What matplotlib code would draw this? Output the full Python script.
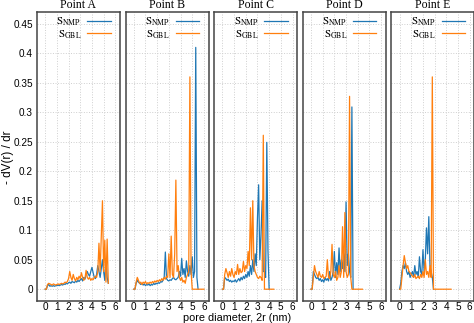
import numpy as np
import matplotlib
matplotlib.use("Agg")
import matplotlib.pyplot as plt

plt.rcParams['font.family'] = ['Liberation Sans', 'DejaVu Sans']
plt.rcParams['mathtext.fontset'] = 'stix'

# pore diameter grid (nm), 0.1 nm step
step = 0.1

panels = ['Point A', 'Point B', 'Point C', 'Point D', 'Point E']

nmp_a = [0, 0, 0.006, 0.008, 0.005, 0.006, 0.005, 0.006, 0.005, 0.006,
         0.006, 0.007, 0.006, 0.007, 0.008, 0.007, 0.009, 0.008, 0.010, 0.009,
         0.011, 0.012, 0.010, 0.013, 0.012, 0.011, 0.014, 0.012, 0.015, 0.013,
         0.016, 0.018, 0.014, 0.020, 0.017, 0.024, 0.030, 0.025, 0.022, 0.030,
         0.037, 0.028, 0.020, 0.018, 0.025, 0.040, 0.030, 0.020, 0.035, 0.050,
         0.030, 0.015, 0.052, 0.020, 0.010]
gbl_a = [0, 0, 0.008, 0.010, 0.009, 0.008, 0.007, 0.009, 0.008, 0.007,
         0.008, 0.009, 0.008, 0.009, 0.010, 0.009, 0.010, 0.012, 0.011, 0.013,
         0.018, 0.030, 0.020, 0.015, 0.025, 0.018, 0.014, 0.020, 0.016, 0.022,
         0.018, 0.028, 0.020, 0.015, 0.018, 0.032, 0.020, 0.017, 0.020, 0.015,
         0.018, 0.016, 0.020, 0.022, 0.020, 0.030, 0.078, 0.030, 0.090, 0.150,
         0.030, 0.083, 0.012, 0.085, 0.010]

nmp_b = [0, 0, 0.010, 0.015, 0.012, 0.010, 0.008, 0.010, 0.007, 0.009,
         0.006, 0.008, 0.007, 0.009, 0.006, 0.008, 0.007, 0.010, 0.008, 0.010,
         0.009, 0.011, 0.010, 0.013, 0.012, 0.015, 0.020, 0.063, 0.018, 0.015,
         0.014, 0.016, 0.015, 0.018, 0.020, 0.017, 0.016, 0.018, 0.020, 0.030,
         0.022, 0.052, 0.025, 0.035, 0.020, 0.048, 0.030, 0.022, 0.040, 0.025,
         0.055, 0.020, 0.030, 0.410, 0.020, 0.0]
gbl_b = [0, 0, 0.012, 0.020, 0.015, 0.010, 0.012, 0.008, 0.012, 0.010,
         0.013, 0.009, 0.011, 0.010, 0.012, 0.010, 0.013, 0.011, 0.014, 0.012,
         0.015, 0.013, 0.016, 0.014, 0.018, 0.015, 0.020, 0.017, 0.022, 0.020,
         0.060, 0.020, 0.090, 0.025, 0.020, 0.060, 0.185, 0.030, 0.040, 0.020,
         0.015, 0.020, 0.012, 0.015, 0.010, 0.020, 0.025, 0.030, 0.360, 0.030,
         0, 0, 0, 0, 0, 0, 0, 0, 0, 0, 0]

nmp_c = [0, 0, 0.020, 0.018, 0.015, 0.017, 0.013, 0.015, 0.012, 0.014,
         0.013, 0.016, 0.012, 0.015, 0.018, 0.014, 0.020, 0.016, 0.022, 0.018,
         0.025, 0.020, 0.030, 0.022, 0.040, 0.025, 0.050, 0.030, 0.060, 0.040,
         0.120, 0.177, 0.050, 0.090, 0.150, 0.030, 0.030, 0.020, 0.249, 0.065,
         0.0]
gbl_c = [0, 0, 0.025, 0.035, 0.028, 0.020, 0.030, 0.022, 0.035, 0.025,
         0.020, 0.030, 0.025, 0.042, 0.025, 0.035, 0.028, 0.030, 0.047, 0.030,
         0.040, 0.035, 0.064, 0.040, 0.138, 0.050, 0.150, 0.040, 0.030, 0.025,
         0.020, 0.018, 0.022, 0.020, 0.015, 0.261, 0, 0, 0, 0,
         0, 0, 0, 0, 0]

nmp_d = [0, 0, 0.030, 0.025, 0.020, 0.018, 0.020, 0.015, 0.018, 0.013,
         0.016, 0.012, 0.020, 0.015, 0.018, 0.014, 0.030, 0.015, 0.020, 0.030,
         0.064, 0.020, 0.045, 0.025, 0.070, 0.030, 0.050, 0.035, 0.060, 0.030,
         0.148, 0.040, 0.060, 0.030, 0.020, 0.309, 0.0]
gbl_d = [0, 0, 0.020, 0.040, 0.030, 0.025, 0.020, 0.030, 0.022, 0.020,
         0.025, 0.018, 0.020, 0.022, 0.050, 0.020, 0.018, 0.030, 0.076, 0.025,
         0.020, 0.030, 0.015, 0.020, 0.040, 0.020, 0.030, 0.106, 0.020, 0.130,
         0.030, 0.020, 0.025, 0.327, 0.020, 0, 0, 0, 0, 0,
         0, 0, 0, 0, 0]

nmp_e = [0, 0.010, 0.030, 0.040, 0.035, 0.045, 0.030, 0.025, 0.030, 0.020,
         0.025, 0.030, 0.020, 0.040, 0.025, 0.030, 0.020, 0.055, 0.030, 0.025,
         0.067, 0.030, 0.050, 0.104, 0.060, 0.123, 0.040, 0.030, 0.020, 0.0]
gbl_e = [0, 0, 0.020, 0.040, 0.057, 0.045, 0.035, 0.040, 0.030, 0.028,
         0.025, 0.022, 0.020, 0.025, 0.018, 0.020, 0.022, 0.018, 0.025, 0.020,
         0.030, 0.020, 0.050, 0.025, 0.030, 0.020, 0.040, 0.020, 0.360, 0,
         0, 0, 0, 0, 0, 0, 0, 0, 0, 0, 0, 0, 0, 0, 0]

nmp_all = [nmp_a, nmp_b, nmp_c, nmp_d, nmp_e]
gbl_all = [gbl_a, gbl_b, gbl_c, gbl_d, gbl_e]

blue = '#1f77b4'
orange = '#ff7f0e'

fig = plt.figure(figsize=(4.74, 3.23), dpi=100)
W, H = 474.0, 323.0
top, bottom = 12, 301
for i in range(5):
    left = 37 + i * 88.6
    ax = fig.add_axes([left / W, 1 - bottom / H, 83 / W, (bottom - top) / H])
    n = nmp_all[i]
    g = gbl_all[i]
    xn = np.arange(len(n)) * step
    xg = np.arange(len(g)) * step
    ax.plot(xn, n, color=blue, lw=0.9, label=r'$\mathrm{S}_{\mathrm{NMP}}$')
    ax.plot(xg, g, color=orange, lw=0.9, label=r'$\mathrm{S}_{\mathrm{GBL}}$')
    ax.set_xlim(-0.7, 6.4)
    ax.set_ylim(-0.02, 0.47)
    ax.set_xticks(range(7))
    ax.set_yticks([0, 0.05, 0.1, 0.15, 0.2, 0.25, 0.3, 0.35, 0.4, 0.45])
    ax.set_yticklabels(['0', '0.05', '0.1', '0.15', '0.2', '0.25', '0.3', '0.35', '0.4', '0.45'])
    ax.tick_params(length=0, labelsize=7.2)
    ax.tick_params(axis='x', pad=1)
    ax.tick_params(axis='y', pad=3)
    if i > 0:
        ax.tick_params(labelleft=False)
    ax.grid(True, ls=':', color='#cfcfcf', lw=0.7)
    for s in ax.spines.values():
        s.set_color('#444444')
        s.set_linewidth(1.1)
    ax.set_title(panels[i], fontsize=8.5, family='Liberation Serif', pad=3)
    leg = ax.legend(loc='upper center', bbox_to_anchor=(0.56, 1.01), frameon=False,
                    markerfirst=False, fontsize=8, handlelength=2.1,
                    labelspacing=0.0, handletextpad=0.5, borderaxespad=0.2)

fig.text(237 / W, 1 - 323 / H, 'pore diameter, 2r (nm)', ha='center', va='bottom', fontsize=7.8)
fig.text(8 / W, 1 - 157 / H, '- dV(r) / dr', ha='center', va='center', rotation=90, fontsize=8.5)

fig.savefig('out.png', dpi=100)
